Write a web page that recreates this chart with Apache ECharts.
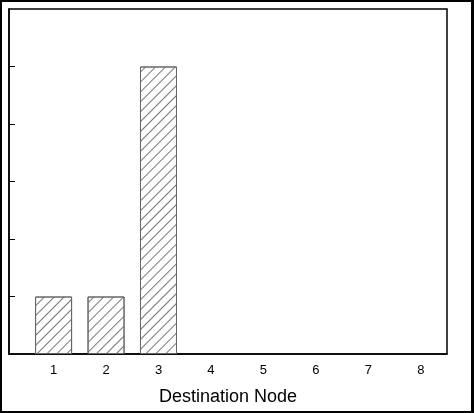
<!DOCTYPE html><html><head><meta charset="utf-8">
<script src="https://cdn.jsdelivr.net/npm/echarts@6/dist/echarts.min.js"></script>
<style>html,body{margin:0;padding:0;background:#fff}#c{width:474px;height:413px;box-sizing:border-box;border:2px solid #000;border-right-width:3px}</style>
</head><body><div id="c"></div><script>
const categories=[1,2,3,4,5,6,7,8];
const values=[1,1,5,0,0,0,0,0];
const yTicks=[1,2,3,4,5];
const chart=echarts.init(document.getElementById('c'));
chart.setOption({
 animation:false,
 grid:{left:7,top:7,right:24,bottom:45,show:true,borderColor:'#000',borderWidth:1.5},
 xAxis:{type:'value',min:0.15,max:8.5,
  name:'Destination Node',nameLocation:'middle',nameGap:34,
  nameTextStyle:{fontFamily:'Liberation Sans',fontSize:18,color:'#000'},
  axisLine:{lineStyle:{color:'#000',width:1.5}},splitLine:{show:false},
  axisTick:{show:false},
  axisLabel:{customValues:categories,fontFamily:'Liberation Sans',fontSize:13,color:'#000',margin:10}},
 yAxis:{type:'value',min:0,max:6,
  axisLine:{show:true,lineStyle:{color:'#000',width:1.5}},splitLine:{show:false},
  axisTick:{show:true,inside:true,length:6,customValues:yTicks,lineStyle:{color:'#000'}},
  axisLabel:{show:false}},
 series:[{type:'bar',barWidth:37,data:categories.map((c,i)=>[c,values[i]]).filter(d=>d[1]>0),
  itemStyle:{color:'#fff',borderColor:'#666',borderWidth:1,
   decal:{symbol:'rect',color:'#777',dashArrayX:[1,0],dashArrayY:[0.8,5.5],rotation:-Math.PI/4,symbolSize:1}}}]
});
</script></body></html>
